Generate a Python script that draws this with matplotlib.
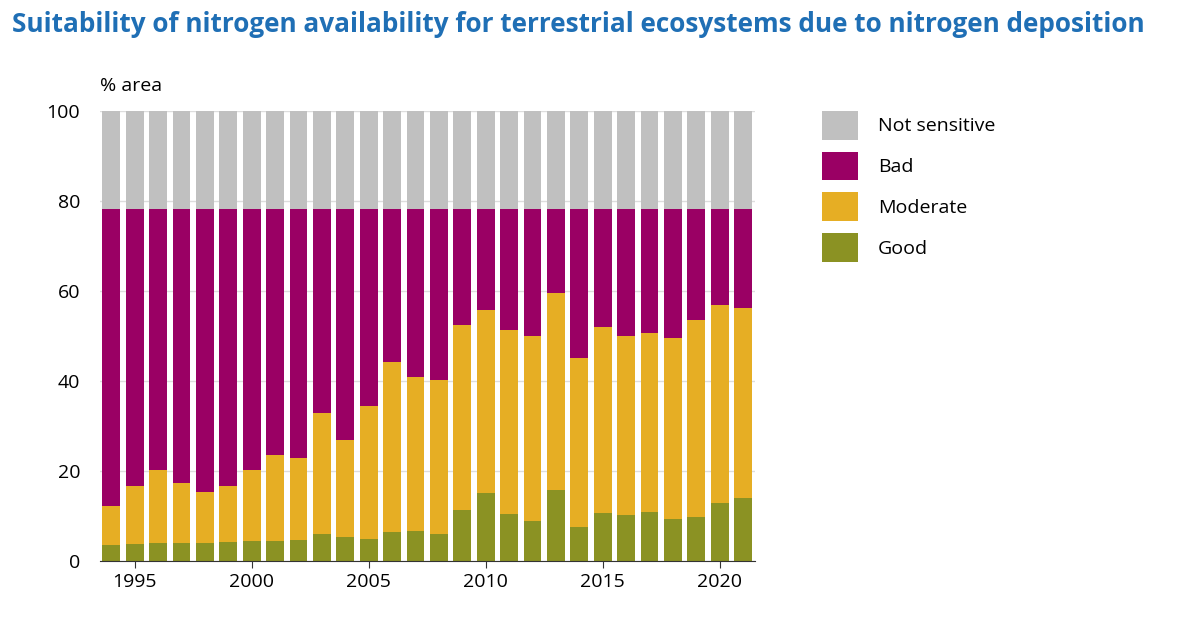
import matplotlib
matplotlib.use("Agg")
import matplotlib.pyplot as plt
import numpy as np

years = list(range(1994, 2022))
good = [3.6,3.8,4.0,4.0,4.0,4.2,4.4,4.4,4.7,6.0,5.3,4.9,6.4,6.7,6.0,11.3,15.1,10.4,8.9,15.8,7.6,10.7,10.2,10.9,9.3,9.8,12.9,14.0]
mod_top = [12.2,16.7,20.2,17.3,15.3,16.7,20.2,23.6,22.9,32.9,26.9,34.4,44.2,40.9,40.2,52.4,55.8,51.3,50.0,59.6,45.1,52.0,50.0,50.7,49.6,53.6,56.9,56.2]
sens_total = [78.2]*28
moderate = [m-g for m, g in zip(mod_top, good)]
bad = [s-m for s, m in zip(sens_total, mod_top)]
not_sens = [100-s for s in sens_total]

plt.rcParams['font.family'] = ['Open Sans', 'DejaVu Sans']
fig = plt.figure(figsize=(12, 6.3), dpi=100)
ax = fig.add_axes([0.083, 0.11, 0.546, 0.714])
x = np.array(years)
w = 0.76
c_good, c_mod, c_bad, c_ns = '#8b9223', '#e6ae24', '#9a0064', '#c0c0c0'
b1 = ax.bar(x, good, w, color=c_good, zorder=2)
b2 = ax.bar(x, moderate, w, bottom=good, color=c_mod, zorder=2)
b3 = ax.bar(x, bad, w, bottom=mod_top, color=c_bad, zorder=2)
b4 = ax.bar(x, not_sens, w, bottom=sens_total, color=c_ns, zorder=2)
ax.set_xlim(1993.5, 2021.5)
ax.set_ylim(0, 100)
ax.set_yticks([0, 20, 40, 60, 80, 100])
ax.set_xticks([1995, 2000, 2005, 2010, 2015, 2020])
ax.grid(axis='y', color='#dddddd', lw=1, zorder=0)
for s in ['top', 'right', 'left']:
    ax.spines[s].set_visible(False)
ax.spines['bottom'].set_color('#333333')
ax.tick_params(axis='y', length=0, labelsize=14, pad=14)
ax.tick_params(axis='x', length=5, labelsize=14, color='#333333')
fig.text(0.083, 0.855, '% area', fontsize=14, ha='left')
fig.text(0.01, 0.95, 'Suitability of nitrogen availability for terrestrial ecosystems due to nitrogen deposition',
         fontsize=18.8, fontweight='bold', color='#1f6fb5', ha='left')
leg = fig.legend([b4, b3, b2, b1], ['Not sensitive', 'Bad', 'Moderate', 'Good'],
                 loc='upper left', bbox_to_anchor=(0.67, 0.852), frameon=False, fontsize=14,
                 handlelength=1.9, handleheight=1.9, labelspacing=0.62, handletextpad=1.0)
fig.savefig('out.png', dpi=100)
